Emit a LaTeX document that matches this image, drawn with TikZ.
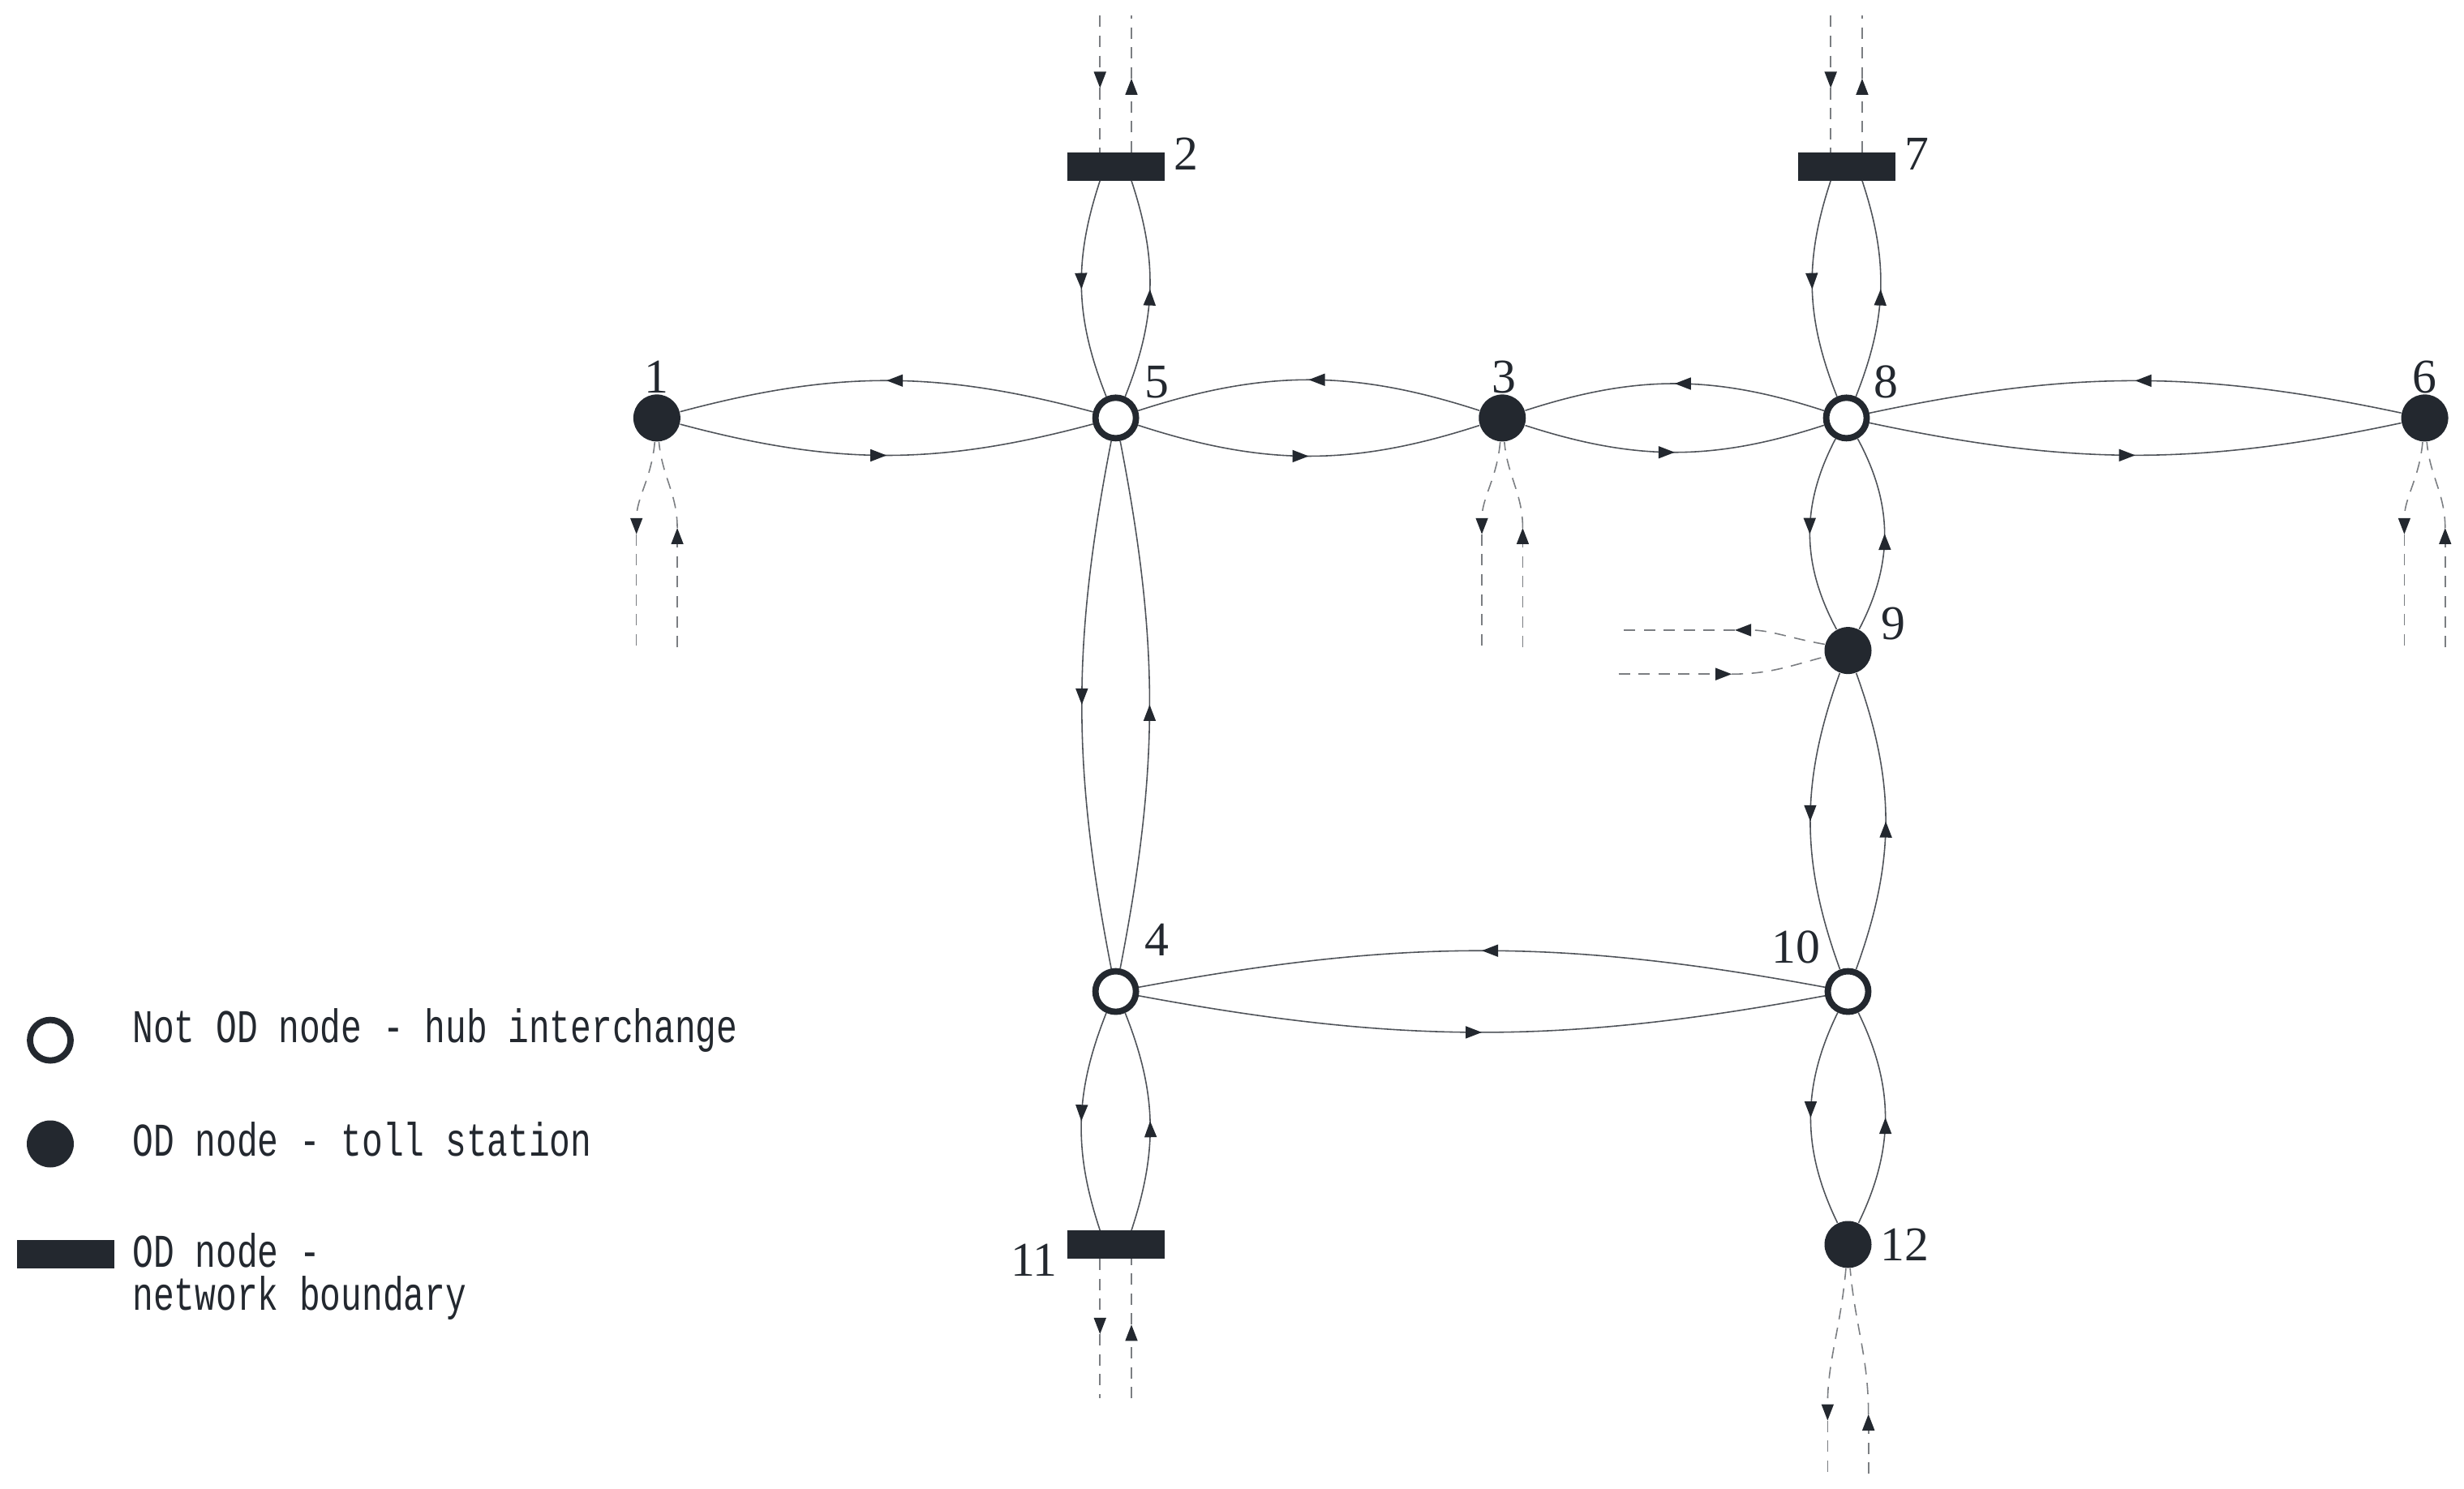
\documentclass[tikz,border=0pt]{standalone}
\usepackage{fontspec}
\setmainfont{Liberation Serif}
\newfontfamily\legfont{Liberation Mono}
\usetikzlibrary{arrows.meta,decorations.markings}
\definecolor{dk}{HTML}{23282F}
\tikzset{
  x=0.019375cm, y=-0.019375cm,
  tip/.tip={Triangle[length=0.2cm,width=0.15cm]},
  toll/.style={circle,fill=dk,inner sep=0pt,minimum size=0.58cm},
  hub/.style={circle,draw=dk,line width=0.078cm,fill=white,inner sep=0pt,minimum size=0.5cm},
  bound/.style={rectangle,fill=dk,inner sep=0pt,minimum width=1.2cm,minimum height=0.35cm},
  lab/.style={font=\fontsize{17}{17}\selectfont,text=dk,inner sep=0pt},
  edge/.style={draw=dk!80,line width=0.45pt,postaction={decorate},
    decoration={markings,mark=at position 0.5 with {\arrow[dk]{tip}}}},
  stub/.style={draw=dk!60,line width=0.45pt,dashed,dash pattern=on 4pt off 3pt},
  arr/.style={-{tip[dk]}},
  leg/.style={anchor=west,inner sep=0pt,text=dk,align=left,font=\legfont\fontsize{12.2}{24}\selectfont},
}
\begin{document}
\begin{tikzpicture}
\useasboundingbox (0,0) rectangle (1568,947.6);
% nodes
\node[toll] (n1) at (418,266) {};
\node[hub] (n5) at (710,266) {};
\node[toll] (n3) at (956,266) {};
\node[hub] (n8) at (1175,266) {};
\node[toll] (n6) at (1543,266) {};
\node[bound] (n2) at (710,106) {};
\node[bound] (n7) at (1175,106) {};
\node[toll] (n9) at (1176,414) {};
\node[hub] (n4) at (710,631) {};
\node[hub] (n10) at (1176,631) {};
\node[bound] (n11) at (710,792) {};
\node[toll] (n12) at (1176,792) {};
% labels
\node[lab] (l1) at (418,240) {1};
\node[lab] (l5) at (736,243) {5};
\node[lab] (l3) at (957,240) {3};
\node[lab] (l8) at (1200,243) {8};
\node[lab] (l6) at (1543,240) {6};
\node[lab] (l2) at (755,98) {2};
\node[lab] (l7) at (1220,98) {7};
\node[lab] (l9) at (1205,397) {9};
\node[lab] (l4) at (736,598) {4};
\node[lab] (l10) at (1143,603) {10};
\node[lab] (l11) at (658,802) {11};
\node[lab] (l12) at (1212,792) {12};
% horizontal pairs
\path[edge] (n5) to[bend right=15] (n1);
\path[edge] (n1) to[bend right=15] (n5);
\path[edge] (n3) to[bend right=18] (n5);
\path[edge] (n5) to[bend right=18] (n3);
\path[edge] (n8) to[bend right=18] (n3);
\path[edge] (n3) to[bend right=18] (n8);
\path[edge] (n6) to[bend right=12] (n8);
\path[edge] (n8) to[bend right=12] (n6);
\path[edge] (n10) to[bend right=10.5] (n4);
\path[edge] (n4) to[bend right=10.5] (n10);
% vertical pairs
\coordinate (b2l) at (700,115); \coordinate (b2r) at (720,115);
\coordinate (b7l) at (1165,115); \coordinate (b7r) at (1185,115);
\coordinate (t11l) at (700,783); \coordinate (t11r) at (720,783);
\path[edge] (b2l) to[bend right=20] (n5);
\path[edge] (n5) to[bend right=20] (b2r);
\path[edge] (b7l) to[bend right=20] (n8);
\path[edge] (n8) to[bend right=20] (b7r);
\path[edge] (n5) to[bend right=11] (n4);
\path[edge] (n4) to[bend right=11] (n5);
\path[edge] (n8) to[bend right=28] (n9);
\path[edge] (n9) to[bend right=28] (n8);
\path[edge] (n9) to[bend right=20] (n10);
\path[edge] (n10) to[bend right=20] (n9);
\path[edge] (n4) to[bend right=20] (t11l);
\path[edge] (t11r) to[bend right=20] (n4);
\path[edge] (n10) to[bend right=26] (n12);
\path[edge] (n12) to[bend right=26] (n10);
% top stubs
\foreach \n/\xl/\xr in {n2/700/720,n7/1165/1185}{
  \coordinate (\n tl) at (\xl,10); \coordinate (\n al) at (\xl,56);
  \coordinate (\n bl) at (\xl,97);
  \coordinate (\n tr) at (\xr,10); \coordinate (\n ar) at (\xr,50);
  \coordinate (\n br) at (\xr,97);
  \draw[stub,arr] (\n tl) -- (\n al);
  \draw[stub] (\n al) -- (\n bl);
  \draw[stub,arr] (\n br) -- (\n ar);
  \draw[stub] (\n ar) -- (\n tr);
}
% bottom stubs of 11
\coordinate (s11a) at (700,801); \coordinate (s11b) at (700,849); \coordinate (s11c) at (700,890);
\coordinate (s11d) at (720,801); \coordinate (s11e) at (720,843); \coordinate (s11f) at (720,890);
\draw[stub,arr] (s11a) -- (s11b); \draw[stub] (s11b) -- (s11c);
\draw[stub,arr] (s11f) -- (s11e); \draw[stub] (s11e) -- (s11d);
% curved bottom stubs
\foreach \n/\x/\ya/\yb/\ye in {n1/418/340/336/412,n3/956/340/336/412,n6/1543/340/336/412,n12/1176/904/900/938}{
  \coordinate (\n da) at (\x-13,\ya);
  \coordinate (\n de) at (\x-13,\ye);
  \coordinate (\n ua) at (\x+13,\yb);
  \coordinate (\n ue) at (\x+13,\ye);
  \draw[stub,arr] (\n.265) to[out=265,in=90] (\n da);
  \draw[stub] (\n da) -- (\n de);
  \draw[stub,arr] (\n ue) -- (\n ua);
  \draw[stub] (\n ua) to[out=90,in=275] (\n.275);
}
% side stubs of 9
\coordinate (s9a) at (1104,401); \coordinate (s9b) at (1030,401);
\coordinate (s9c) at (1030,429); \coordinate (s9d) at (1102,429);
\draw[stub,arr] (n9.165) to[out=170,in=0] (s9a);
\draw[stub] (s9a) -- (s9b);
\draw[stub,arr] (s9c) -- (s9d);
\draw[stub] (s9d) to[out=0,in=195] (n9.195);
% legend
\node[hub] (g1) at (32,662) {};
\node[toll] (g2) at (32,728) {};
\node[bound] (g3) at (42,798) {};
\node[leg] (t1) at (84,656) {\scalebox{1}[1.35]{Not OD node - hub interchange}};
\node[leg] (t2) at (84,725) {\scalebox{1}[1.35]{OD node - toll station}};
\node[leg] (t3) at (84,796) {\scalebox{1}[1.35]{OD node -}};
\node[leg] (t4) at (84,826) {\scalebox{1}[1.35]{network boundary}};
\end{tikzpicture}
\end{document}
